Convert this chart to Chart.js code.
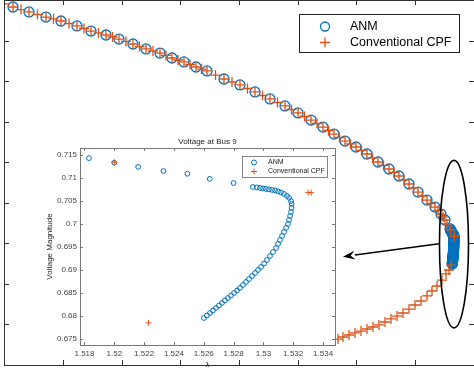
<!DOCTYPE html>
<html><head><meta charset="utf-8">
<script src="https://cdn.jsdelivr.net/npm/chart.js@4/dist/chart.umd.min.js"></script>
<style>
html,body{margin:0;padding:0;background:#fff;overflow:hidden;}
#wrap{position:relative;width:474px;height:368px;overflow:hidden;background:#fff;}
#main,#inset{position:absolute;left:0;top:0;}
</style></head><body>
<div id="wrap"><canvas id="main" width="474" height="368"></canvas><canvas id="inset" width="474" height="400"></canvas></div>
<script>
// ---------- DATA (lambda = loading parameter, voltage = bus 9 voltage magnitude) ----------
const anmUpperLambda = [0.0306,0.0851,0.1430,0.1940,0.2485,0.2962,0.3472,0.3915,0.4391,0.4834,0.5311,0.5719,0.6128,0.6536,0.6911,0.7489,0.8034,0.8545,0.9055,0.9566,1.0009,1.0451,1.0860,1.1234,1.1609,1.1983,1.2357,1.2732,1.3106,1.3447,1.3787,1.4094,1.4400,1.4672,1.4877,1.5013];
const anmUpperVoltage = [0.9331,0.9282,0.9232,0.9193,0.9144,0.9094,0.9055,0.9015,0.8966,0.8917,0.8877,0.8828,0.8789,0.8739,0.8700,0.8621,0.8562,0.8493,0.8424,0.8355,0.8286,0.8216,0.8147,0.8078,0.8009,0.7950,0.7881,0.7802,0.7733,0.7664,0.7585,0.7506,0.7427,0.7358,0.7289,0.7230];

const insetAnmLambda = [1.5183,1.5200,1.5216,1.5233,1.5249,1.5264,1.5280,
 1.52929,1.52956,1.52977,1.52997,1.53017,1.53037,1.53058,1.53078,1.53098,1.53118,1.53138,1.53158,1.53172,1.53185,1.53189,1.53189,1.53185,1.53179,1.53172,1.53165,1.53152,1.53138,1.53125,1.53111,1.53098,1.53085,1.53064,1.53044,1.53024,1.53004,1.52984,1.52964,1.52944,1.52924,1.52903,1.52883,1.52863,1.52843,1.52823,1.52803,1.52783,1.52762,1.52742,1.52722,1.52702,1.52682,1.52662,1.52642,1.52621,1.52601];
const insetAnmVoltage = [0.7143,0.7133,0.7124,0.7115,0.7109,0.7098,0.7089,
 0.70804,0.70793,0.70783,0.70772,0.70761,0.70750,0.70739,0.70728,0.70707,0.70685,0.70652,0.70609,0.70565,0.70500,0.70435,0.70348,0.70261,0.70174,0.70087,0.70000,0.69913,0.69826,0.69739,0.69652,0.69565,0.69478,0.69391,0.69304,0.69217,0.69141,0.69065,0.69000,0.68935,0.68870,0.68804,0.68739,0.68674,0.68609,0.68554,0.68500,0.68446,0.68391,0.68337,0.68283,0.68228,0.68174,0.68120,0.68065,0.68011,0.67957];

const cpfUpperLambda = [0.0000,0.0306,0.0579,0.0851,0.1140,0.1430,0.1685,0.1940,0.2213,0.2485,0.2723,0.2962,0.3217,0.3472,0.3694,0.3915,0.4153,0.4391,0.4613,0.4834,0.5072,0.5311,0.5515,0.5719,0.5923,0.6128,0.6332,0.6536,0.6723,0.6911,0.7200,0.7489,0.7762,0.8034,0.8289,0.8545,0.8800,0.9055,0.9311,0.9566,0.9787,1.0009,1.0230,1.0451,1.0655,1.0860,1.1047,1.1234,1.1421,1.1609,1.1796,1.1983,1.2170,1.2357,1.2545,1.2732,1.2919,1.3106,1.3277,1.3447,1.3617,1.3787,1.3940,1.4094,1.4247,1.4400,1.4536,1.4672,1.4774,1.4877,1.4945,1.5013,1.5081];
const cpfUpperVoltage = [0.9361,0.9331,0.9306,0.9282,0.9257,0.9232,0.9213,0.9193,0.9168,0.9144,0.9119,0.9094,0.9075,0.9055,0.9035,0.9015,0.8991,0.8966,0.8941,0.8917,0.8897,0.8877,0.8853,0.8828,0.8808,0.8789,0.8764,0.8739,0.8719,0.8700,0.8660,0.8621,0.8591,0.8562,0.8527,0.8493,0.8458,0.8424,0.8389,0.8355,0.8320,0.8286,0.8251,0.8216,0.8182,0.8147,0.8113,0.8078,0.8044,0.8009,0.7980,0.7950,0.7916,0.7881,0.7842,0.7802,0.7768,0.7733,0.7699,0.7664,0.7625,0.7585,0.7546,0.7506,0.7467,0.7427,0.7393,0.7358,0.7324,0.7289,0.7260,0.7230,0.7191];

const insetCpfLambda = [1.5200,1.5330,1.5332,1.5223];
const insetCpfVoltage = [0.7134,0.7068,0.7068,0.6785];

const cpfLowerLambda = [1.5149,1.5047,1.4911,1.4740,1.4570,1.4400,1.4196,1.3991,1.3787,1.3583,1.3379,1.3174,1.2970,1.2766,1.2562,1.2357,1.2153,1.1949,1.1745,1.1540,1.1370];
const cpfLowerVoltage = [0.6737,0.6698,0.6638,0.6579,0.6530,0.6481,0.6431,0.6392,0.6352,0.6313,0.6283,0.6254,0.6224,0.6195,0.6175,0.6155,0.6135,0.6116,0.6096,0.6076,0.6056];

const mainXTicks = [0.2,0.4,0.6,0.8,1.0,1.2,1.4];
const mainYTicks = [0.62,0.66,0.70,0.74,0.78,0.82,0.86,0.90];
const insetXTicks = [1.518,1.520,1.522,1.524,1.526,1.528,1.530,1.532,1.534];
const insetXTickLabels = ['1.518','1.52','1.522','1.524','1.526','1.528','1.53','1.532','1.534'];
const insetYTicks = [0.675,0.680,0.685,0.690,0.695,0.700,0.705,0.710,0.715];
const insetYTickLabels = ['0.675','0.68','0.685','0.69','0.695','0.7','0.705','0.71','0.715'];
const seriesNames = ['ANM','Conventional CPF'];
const insetTitle = 'Voltage at Bus 9';
const insetYLabel = 'Voltage Magnitude';
const insetXLabel = 'λ';

// ---------- helpers ----------
const pts = (xs, ys) => xs.map((x, i) => ({x: x, y: ys[i]}));
const BLUE = '#0072BD', ORANGE = '#D95319';
const FONT = '"Liberation Sans", Arial, sans-serif';

function drawCircle(ctx, x, y, r){ ctx.beginPath(); ctx.arc(x, y, r, 0, Math.PI*2); ctx.stroke(); }
function drawPlus(ctx, x, y, r){ ctx.beginPath(); ctx.moveTo(x-r, y); ctx.lineTo(x+r, y); ctx.moveTo(x, y-r); ctx.lineTo(x, y+r); ctx.stroke(); }

// annotation (in data units of the main axes)
const annot = { ellipse: {cx: 1.5319, cy: 0.6992, rx: 0.0494, ry: 0.0826},
                arrow: {x0: 1.4809, y0: 0.6997, x1: 1.1540, y1: 0.6868} };

const mainDecor = {
  id: 'mainDecor',
  afterDatasetsDraw(chart){
    const ctx = chart.ctx, a = chart.chartArea, xs = chart.scales.x, ys = chart.scales.y;
    ctx.save();
    ctx.strokeStyle = '#333'; ctx.lineWidth = 1;
    ctx.strokeRect(a.left + 0.5, a.top + 0.5, a.right - a.left, a.bottom - a.top);
    ctx.beginPath();
    mainXTicks.forEach(v => { const px = Math.round(xs.getPixelForValue(v)) + 0.5;
      ctx.moveTo(px, a.bottom); ctx.lineTo(px, a.bottom - 5);
      ctx.moveTo(px, a.top); ctx.lineTo(px, a.top + 5); });
    mainYTicks.forEach(v => { const py = Math.round(ys.getPixelForValue(v)) + 0.5;
      ctx.moveTo(a.left, py); ctx.lineTo(a.left + 5, py);
      ctx.moveTo(a.right, py); ctx.lineTo(a.right - 5, py); });
    ctx.stroke();
    const e = annot.ellipse;
    const ecx = xs.getPixelForValue(e.cx), ecy = ys.getPixelForValue(e.cy);
    const erx = Math.abs(xs.getPixelForValue(e.cx + e.rx) - ecx), ery = Math.abs(ys.getPixelForValue(e.cy + e.ry) - ecy);
    ctx.strokeStyle = '#000'; ctx.lineWidth = 1.6;
    ctx.beginPath(); ctx.ellipse(ecx, ecy, erx, ery, 0, 0, Math.PI*2); ctx.stroke();
    const ar = annot.arrow;
    const x0 = xs.getPixelForValue(ar.x0), y0 = ys.getPixelForValue(ar.y0);
    const x1 = xs.getPixelForValue(ar.x1), y1 = ys.getPixelForValue(ar.y1);
    const ang = Math.atan2(y1 - y0, x1 - x0), hl = 12, hw = 4.5;
    const bx = x1 - hl*Math.cos(ang), by = y1 - hl*Math.sin(ang);
    ctx.lineWidth = 1.5;
    ctx.beginPath(); ctx.moveTo(x0, y0); ctx.lineTo(bx, by); ctx.stroke();
    ctx.fillStyle = '#000';
    ctx.beginPath(); ctx.moveTo(x1, y1);
    ctx.lineTo(bx + hw*Math.sin(ang), by - hw*Math.cos(ang));
    ctx.lineTo(bx + 0.35*hl*Math.cos(ang), by + 0.35*hl*Math.sin(ang));
    ctx.lineTo(bx - hw*Math.sin(ang), by + hw*Math.cos(ang));
    ctx.closePath(); ctx.fill();
    const L = {x: a.left + 295, y: a.top + 14, w: 160, h: 38};
    ctx.fillStyle = '#fff'; ctx.fillRect(L.x, L.y, L.w, L.h);
    ctx.strokeStyle = '#222'; ctx.lineWidth = 1;
    ctx.strokeRect(L.x + 0.5, L.y + 0.5, L.w, L.h);
    ctx.lineWidth = 1.3;
    ctx.strokeStyle = BLUE; drawCircle(ctx, L.x + 26, L.y + 12.5, 4.5);
    ctx.strokeStyle = ORANGE; drawPlus(ctx, L.x + 26, L.y + 28.5, 5);
    ctx.fillStyle = '#000'; ctx.font = '12.5px ' + FONT; ctx.textBaseline = 'middle'; ctx.textAlign = 'left';
    ctx.fillText(seriesNames[0], L.x + 51, L.y + 13);
    ctx.fillText(seriesNames[1], L.x + 51, L.y + 29);
    ctx.restore();
  }
};

new Chart(document.getElementById('main'), {
  type: 'scatter',
  data: { datasets: [
    { label: seriesNames[0], data: pts(anmUpperLambda, anmUpperVoltage).concat(pts(insetAnmLambda, insetAnmVoltage)),
      pointStyle: 'circle', pointRadius: 5, borderColor: BLUE, backgroundColor: 'rgba(0,0,0,0)', borderWidth: 1.3, order: 2 },
    { label: seriesNames[1], data: pts(cpfUpperLambda, cpfUpperVoltage).concat(pts(insetCpfLambda, insetCpfVoltage), pts(cpfLowerLambda, cpfLowerVoltage)),
      pointStyle: 'cross', pointRadius: 5, borderColor: ORANGE, backgroundColor: ORANGE, borderWidth: 1.3, order: 1 }
  ]},
  options: {
    responsive: false, animation: false, devicePixelRatio: 1, events: [],
    layout: { autoPadding: false, padding: { left: 4, top: 0, right: 0, bottom: 3 } },
    scales: { x: { type: 'linear', display: false, min: 0, max: 1.6 },
              y: { type: 'linear', display: false, min: 0.58, max: 0.94 } },
    plugins: { legend: { display: false }, tooltip: { enabled: false } }
  },
  plugins: [mainDecor]
});

// ---------- inset ----------
const insetDecor = {
  id: 'insetDecor',
  beforeDatasetsDraw(chart){
    const ctx = chart.ctx, a = chart.chartArea;
    ctx.save(); ctx.fillStyle = '#fff'; ctx.fillRect(a.left, a.top, a.right - a.left, a.bottom - a.top); ctx.restore();
  },
  afterDatasetsDraw(chart){
    const ctx = chart.ctx, a = chart.chartArea, xs = chart.scales.x, ys = chart.scales.y;
    ctx.save();
    ctx.strokeStyle = '#777'; ctx.lineWidth = 1;
    ctx.strokeRect(a.left + 0.5, a.top + 0.5, a.right - a.left, a.bottom - a.top);
    ctx.beginPath();
    insetXTicks.forEach(v => { const px = Math.round(xs.getPixelForValue(v)) + 0.5;
      ctx.moveTo(px, a.bottom); ctx.lineTo(px, a.bottom - 3);
      ctx.moveTo(px, a.top); ctx.lineTo(px, a.top + 3); });
    insetYTicks.forEach(v => { const py = Math.round(ys.getPixelForValue(v)) + 0.5;
      ctx.moveTo(a.left, py); ctx.lineTo(a.left + 3, py);
      ctx.moveTo(a.right, py); ctx.lineTo(a.right - 3, py); });
    ctx.stroke();
    ctx.fillStyle = '#222'; ctx.font = '8px ' + FONT; ctx.textAlign = 'center'; ctx.textBaseline = 'middle';
    ctx.fillText(insetTitle, (a.left + a.right)/2, a.top - 6);
    const L = {x: a.left + 162, y: a.top + 8, w: 85, h: 21};
    ctx.fillStyle = '#fff'; ctx.fillRect(L.x, L.y, L.w, L.h);
    ctx.strokeStyle = '#666'; ctx.lineWidth = 0.8; ctx.strokeRect(L.x + 0.5, L.y + 0.5, L.w, L.h);
    ctx.lineWidth = 1;
    ctx.strokeStyle = BLUE; drawCircle(ctx, L.x + 12, L.y + 6.5, 2.5);
    ctx.strokeStyle = ORANGE; drawPlus(ctx, L.x + 12, L.y + 15.5, 3);
    ctx.fillStyle = '#222'; ctx.font = '7px ' + FONT; ctx.textAlign = 'left';
    ctx.fillText(seriesNames[0], L.x + 26, L.y + 6.5);
    ctx.fillText(seriesNames[1], L.x + 26, L.y + 15.5);
    ctx.restore();
  }
};

const tickFont = { family: FONT, size: 8 };
new Chart(document.getElementById('inset'), {
  type: 'scatter',
  data: { datasets: [
    { label: seriesNames[0], data: pts(insetAnmLambda, insetAnmVoltage), pointStyle: 'circle', pointRadius: 2.4,
      borderColor: BLUE, backgroundColor: 'rgba(0,0,0,0)', borderWidth: 1, order: 2 },
    { label: seriesNames[1], data: pts(insetCpfLambda, insetCpfVoltage), pointStyle: 'cross', pointRadius: 3,
      borderColor: ORANGE, backgroundColor: ORANGE, borderWidth: 1, order: 1 }
  ]},
  options: {
    responsive: false, animation: false, devicePixelRatio: 1, events: [],
    layout: { autoPadding: false, padding: { left: 40, top: 148, right: 139, bottom: 30 } },
    scales: {
      x: { type: 'linear', min: 1.5177, max: 1.5348, grid: { display: false, drawTicks: false }, border: { display: false },
           afterBuildTicks: s => { s.ticks = insetXTicks.map(v => ({ value: v })); },
           afterFit: s => { s.height = 25; },
           ticks: { autoSkip: false, maxRotation: 0, minRotation: 0, padding: 4, font: tickFont, color: '#444',
                    callback: (v, i) => insetXTickLabels[i] },
           title: { display: true, text: insetXLabel, font: tickFont, color: '#222', padding: { top: 0, bottom: 0 } } },
      y: { type: 'linear', min: 0.6737, max: 0.7165, grid: { display: false, drawTicks: false }, border: { display: false },
           afterBuildTicks: s => { s.ticks = insetYTicks.map(v => ({ value: v })); },
           afterFit: s => { s.width = 40; },
           ticks: { autoSkip: false, padding: 3, font: tickFont, color: '#444',
                    callback: (v, i) => insetYTickLabels[i] },
           title: { display: true, text: insetYLabel, font: tickFont, color: '#222', padding: { top: 5, bottom: 0 } } }
    },
    plugins: { legend: { display: false }, tooltip: { enabled: false } }
  },
  plugins: [insetDecor]
});
</script>
</body></html>
